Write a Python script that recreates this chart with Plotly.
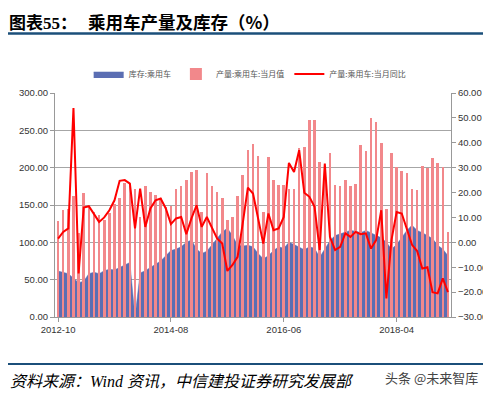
import plotly.graph_objects as go
import pandas as pd

months = [d.strftime("%Y-%m") for d in pd.date_range("2012-10-01", "2019-02-01", freq="MS")]
tick_labels = ["2012-10", "2014-08", "2016-06", "2018-04"]

# 产量:乘用车:当月值 (万辆)
production = [128, 143, 145, 162, 112, 166, 147, 140, 136, 130, 139, 152, 159, 180, 176, 171,
              134, 175, 167, 164, 160, 147, 149, 172, 175, 183, 194, 197, 141, 193, 175, 167,
              159, 130, 134, 162, 190, 223, 232, 215, 141, 214, 183, 177, 177, 172, 172, 226,
              228, 264, 264, 208, 186, 219, 177, 175, 184, 176, 178, 230, 222, 267, 261, 233,
              144, 220, 201, 195, 193, 172, 170, 202, 199, 213, 206, 201, 114]
# 库存:乘用车
inventory = [61.5, 59.5, 58, 52, 46, 48, 58, 60, 58, 62, 64, 63, 66, 70, 73, 0,
             59, 62, 66, 70, 75, 82, 89, 91, 94, 100, 103, 91, 85, 88, 96, 105,
             114, 119, 109, 96, 95, 96, 94, 85, 78, 82, 89, 94, 92, 100, 97, 93,
             90, 94, 92, 80, 91, 102, 109, 111, 113, 116, 115, 113, 116, 113, 110, 106,
             100, 91, 97, 107, 116, 123, 116, 113, 109, 105, 96, 91, 82]
# 产量:乘用车:当月同比 (%)
yoy = [1.5, 4.2, 5.6, 54.0, -12.5, 14.0, 14.5, 11.6, 8.2, 10.0, 12.9, 16.9, 24.7, 25.0, 23.6, 5.6,
       21.6, 6.2, 13.6, 16.9, 17.6, 13.6, 7.3, 9.6, 10.2, 3.3, 9.6, 14.9, 6.2, 10.2, 6.2, 1.6,
       -0.5, -11.5, -9.1, -5.8, 7.6, 22.0, 19.6, 10.2, -0.5, 11.6, 4.9, 5.6, 10.2, 31.9, 28.3, 37.0,
       19.9, 18.3, 14.3, -3.1, 31.6, 2.2, -3.1, -1.8, 3.6, 2.2, 4.2, 3.3, 3.6, -2.5, 0.9, 12.9,
       -22.5, 1.0, 12.2, 11.6, 5.6, -1.0, -3.5, -10.5, -10.0, -20.0, -20.5, -14.5, -20.0]

n = len(months)
xs = list(range(n))
tickvals = [months.index(t) for t in tick_labels]

BLUE = "#5B6EB3"
PINK = "#F2888B"
RED = "#FF0000"
DARK = "#1B4F7A"
FONT = "Liberation Sans, Arial, Noto Sans CJK SC, sans-serif"
CJK = "Noto Sans CJK SC, sans-serif"

fig = go.Figure()
fig.add_trace(go.Scatter(x=xs, y=inventory, name="库存:乘用车", mode="lines",
                         line=dict(color=BLUE, width=0.5), fill="tozeroy",
                         fillcolor=BLUE, yaxis="y", hoverinfo="skip"))
fig.add_trace(go.Bar(x=xs, y=production, name="产量:乘用车:当月值", width=0.5,
                     marker=dict(color=PINK, line=dict(width=0)), yaxis="y2"))
fig.add_trace(go.Scatter(x=xs, y=yoy, name="产量:乘用车:当月同比", mode="lines",
                         line=dict(color=RED, width=2), yaxis="y3"))

# The page body adds an 8px offset; the figure is sized/positioned to compensate.
OFF = 8
axis_font = dict(family=FONT, size=9.5, color="#333333")
fig.update_layout(
    width=491 - OFF, height=393 - OFF,
    margin=dict(l=55 - OFF, r=40, t=93 - OFF, b=76, autoexpand=False),
    paper_bgcolor="white", plot_bgcolor="white",
    showlegend=True,
    legend=dict(orientation="h", x=0.085, y=1.085, xanchor="left", yanchor="middle",
                font=dict(family=CJK, size=8, color="#555555"), itemwidth=30,
                bgcolor="rgba(0,0,0,0)", tracegroupgap=0),
    xaxis=dict(range=[-0.6, n - 0.4], tickmode="array", tickvals=tickvals, ticktext=tick_labels,
               showgrid=False, showline=True, linecolor="#999999", linewidth=1,
               ticks="outside", ticklen=4, tickcolor="#999999", tickfont=axis_font,
               zeroline=False, automargin=False),
    yaxis=dict(range=[0, 300], dtick=50, tickformat=".2f", showgrid=True,
               gridcolor="#A6A6A6", gridwidth=1, showline=True, linecolor="#999999",
               ticks="outside", ticklen=4, tickcolor="#999999", tickfont=axis_font,
               zeroline=False, automargin=False),
    yaxis2=dict(range=[0, 300], overlaying="y", visible=False),
    yaxis3=dict(range=[-30, 60], dtick=10, tickformat=".2f", overlaying="y", side="right",
                anchor="x", showgrid=False, showline=True, linecolor="#999999",
                ticks="outside", ticklen=4, tickcolor="#999999", tickfont=axis_font,
                zeroline=False, automargin=False),
    bargap=0,
)


def px_x(x):
    return (x - 55) / 396


def px_y(y):
    return (317 - y) / 224


# header and footer rules
fig.add_shape(type="line", xref="paper", yref="paper", x0=px_x(OFF), x1=px_x(487),
              y0=px_y(33.5), y1=px_y(33.5), line=dict(color=DARK, width=2.5))
fig.add_shape(type="line", xref="paper", yref="paper", x0=px_x(OFF), x1=px_x(487),
              y0=px_y(364), y1=px_y(364), line=dict(color=DARK, width=2))

fig.add_annotation(text="<b>图表<span style='font-family:Liberation Serif'>55</span>：</b>",
                   x=px_x(OFF), y=px_y(OFF), xref="paper", yref="paper",
                   xanchor="left", yanchor="top", showarrow=False, borderpad=0,
                   font=dict(family=CJK, size=17, color="#000000"))
fig.add_annotation(text="<b>乘用车产量及库存（%）</b>", x=px_x(87), y=px_y(OFF), xref="paper",
                   yref="paper", xanchor="left", yanchor="top", showarrow=False, borderpad=0,
                   font=dict(family=CJK, size=17.5, color="#000000"))
fig.add_annotation(text="<i>资料来源：Wind 资讯，中信建投证券研究发展部</i>", x=px_x(OFF), y=px_y(381),
                   xref="paper", yref="paper", xanchor="left", yanchor="middle",
                   showarrow=False, font=dict(family="Liberation Serif, " + CJK, size=16,
                                              color="#000000"))
fig.add_annotation(text="头条 @未来智库", x=px_x(480), y=px_y(377), xref="paper", yref="paper",
                   xanchor="right", yanchor="middle", showarrow=False,
                   font=dict(family=CJK, size=13, color="#444444"))

fig.write_html("out.html")
